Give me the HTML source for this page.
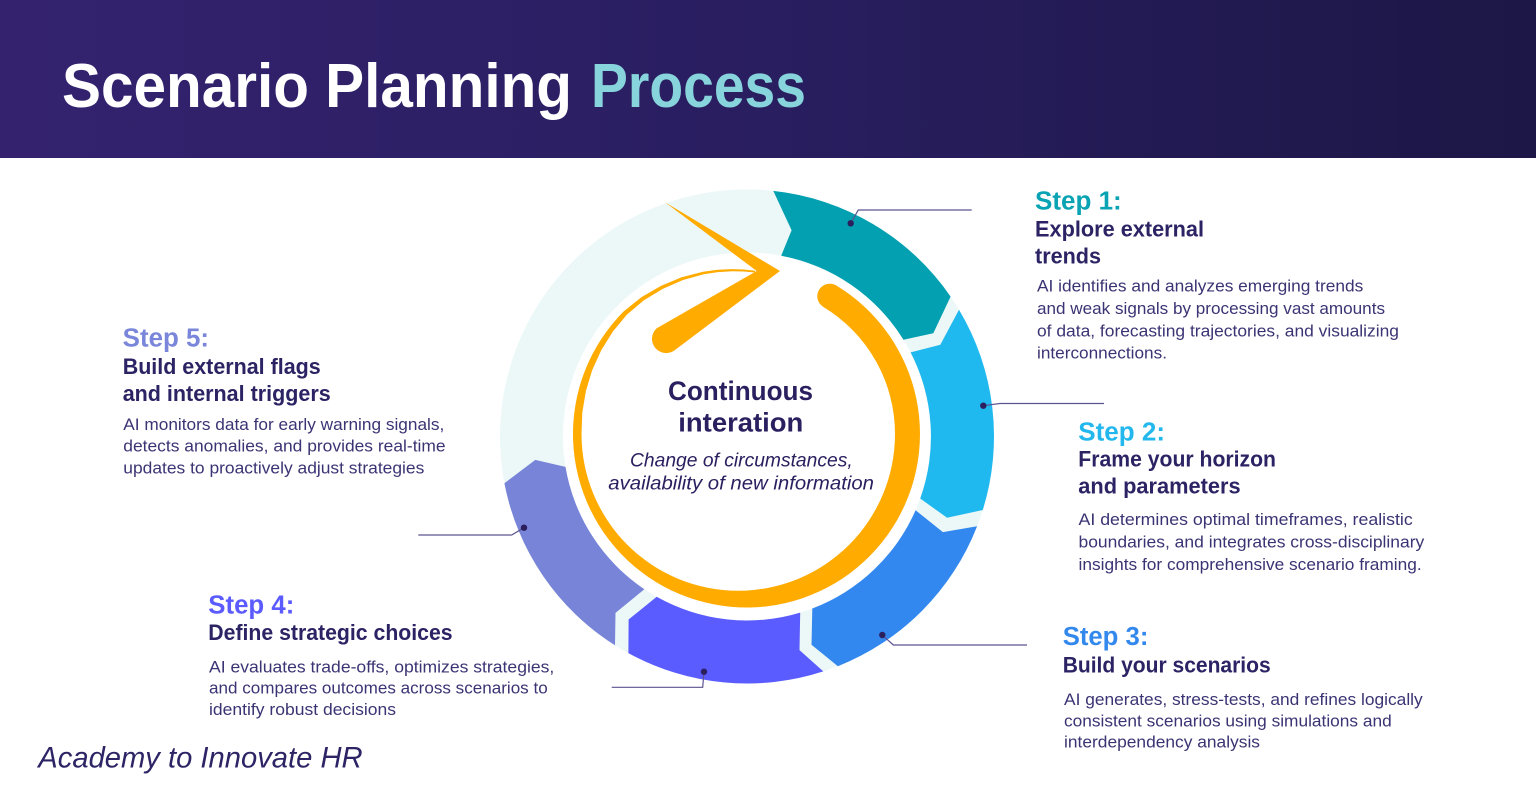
<!DOCTYPE html>
<html>
<head>
<meta charset="utf-8">
<style>
  html,body{margin:0;padding:0;background:#ffffff;}
  body{width:1536px;height:803px;overflow:hidden;}
  svg{display:block;}
  text{font-family:"Liberation Sans", Arial, sans-serif;}
  .lbl{font-size:25.5px;font-weight:bold;}
  .hd{font-size:22.5px;font-weight:bold;fill:#2c2364;}
  .bd{font-size:17px;fill:#3b3474;}
  .cn{fill:none;stroke:#5c5490;stroke-width:1.2;}
  .dot{fill:#2b1f5e;}
</style>
</head>
<body>
<svg width="1536" height="803" viewBox="0 0 1536 803" xmlns="http://www.w3.org/2000/svg">
  <defs>
    <linearGradient id="hg" x1="0" y1="0" x2="1" y2="0">
      <stop offset="0" stop-color="#34226f"/>
      <stop offset="0.5" stop-color="#291e60"/>
      <stop offset="1" stop-color="#1c1746"/>
    </linearGradient>
  </defs>

  <!-- Header -->
  <rect x="0" y="0" width="1536" height="158" fill="url(#hg)"/>
  <text x="62" y="107" font-size="62" font-weight="bold" fill="#ffffff" textLength="510" lengthAdjust="spacingAndGlyphs">Scenario Planning</text>
  <text x="591" y="107" font-size="62" font-weight="bold" fill="#88d4dc" textLength="215" lengthAdjust="spacingAndGlyphs">Process</text>

  <!-- Pale ring background -->
  <circle cx="747" cy="436.5" r="215.5" fill="none" stroke="#ecf8f8" stroke-width="63"/>

  <!-- Segments -->
  <path d="M 773.3 190.9 A 247 247 0 0 1 950.6 296.6 L 933.3 333.2 L 903.5 339.8 A 184 184 0 0 0 781.2 255.7 L 791.6 230.3 Z" fill="#02a0b0"/>
  <path d="M 959.0 309.7 A 247 247 0 0 1 982.8 510.0 L 947.1 517.8 L 920.2 498.5 A 184 184 0 0 0 910.6 352.4 L 940.3 344.7 Z" fill="#20b9ef"/>
  <path d="M 977.1 526.2 A 247 247 0 0 1 837.9 666.2 L 811.5 644.8 L 812.3 608.5 A 184 184 0 0 0 915.6 510.2 L 942.9 532.1 Z" fill="#3388ef"/>
  <path d="M 823.3 671.4 A 247 247 0 0 1 628.4 653.1 L 628.6 619.5 L 656.7 596.8 A 184 184 0 0 0 800.2 612.6 L 799.5 650.1 Z" fill="#5b5cff"/>
  <path d="M 615.0 645.3 A 247 247 0 0 1 504.4 483.2 L 535.3 459.9 L 565.5 466.9 A 184 184 0 0 0 644.4 589.2 L 615.5 612.9 Z" fill="#7884d8"/>

  <!-- Orange brush stroke -->
  <path d="M 835.9 285.3 A 173.5 173.5 0 1 1 623.8 311.3 L 641.5 297.1 L 661.0 285.9 L 681.6 277.3 L 703.0 271.7 L 717.5 269.7 L 732.1 269.1 L 743.6 269.5 L 755.1 270.7 L 755.0 272.5 L 743.7 271.5 L 732.3 271.3 L 718.0 272.1 L 703.7 274.2 L 682.7 280.1 L 662.75 288.9 L 643.9 300.3 L 627.0 314.5 L 612.9 331.5 L 601.3 350.1 L 592.2 370.1 L 585.9 391.0 L 582.3 412.4 L 581.5 434 A 156.75 156.75 0 0 0 895 434 A 148.5 148.5 0 0 0 823.0 306.7 A 12.5 12.5 0 0 1 835.9 285.3 Z" fill="#ffab00"/>
  <!-- Arrowhead -->
  <path d="M 665 202.3 L 780 271 L 675 350 A 14.2 14.2 0 0 1 656.7 328.3 L 756.7 271 Z" fill="#ffab00"/>

  <!-- Center text -->
  <text x="668" y="400" font-size="27" font-weight="bold" fill="#2a2060" textLength="145" lengthAdjust="spacingAndGlyphs">Continuous</text>
  <text x="678.3" y="431.7" font-size="27" font-weight="bold" fill="#2a2060" textLength="125" lengthAdjust="spacingAndGlyphs">interation</text>
  <text x="630" y="466.7" font-size="19" font-style="italic" fill="#2a2060" textLength="222.7" lengthAdjust="spacingAndGlyphs">Change of circumstances,</text>
  <text x="608.3" y="489.3" font-size="19" font-style="italic" fill="#2a2060" textLength="265.7" lengthAdjust="spacingAndGlyphs">availability of new information</text>

  <!-- Connectors -->
  <polyline class="cn" points="850.7,223.3 858.3,210 971.7,210"/>
  <circle class="dot" cx="850.7" cy="223.3" r="3.2"/>
  <polyline class="cn" points="983.3,405.7 1000,403.5 1104,403.5"/>
  <circle class="dot" cx="983.3" cy="405.7" r="3.2"/>
  <polyline class="cn" points="882.3,635 893.3,645 1027,645"/>
  <circle class="dot" cx="882.3" cy="635" r="3.2"/>
  <polyline class="cn" points="704,671.7 702.7,687.3 611.7,687.3"/>
  <circle class="dot" cx="704" cy="671.7" r="3.2"/>
  <polyline class="cn" points="524,527.7 511.7,535 418.3,535"/>
  <circle class="dot" cx="524" cy="527.7" r="3.2"/>

  <!-- Step 1 -->
  <text class="lbl" x="1035" y="209.3" fill="#0aa3b3" textLength="86.7" lengthAdjust="spacingAndGlyphs">Step 1:</text>
  <text class="hd" x="1035" y="236.7" textLength="169" lengthAdjust="spacingAndGlyphs">Explore external</text>
  <text class="hd" x="1035" y="263.3" textLength="66" lengthAdjust="spacingAndGlyphs">trends</text>
  <text class="bd" x="1037" y="291.7" textLength="326.3" lengthAdjust="spacingAndGlyphs">AI identifies and analyzes emerging trends</text>
  <text class="bd" x="1037" y="314" textLength="348" lengthAdjust="spacingAndGlyphs">and weak signals by processing vast amounts</text>
  <text class="bd" x="1037" y="336.7" textLength="362" lengthAdjust="spacingAndGlyphs">of data, forecasting trajectories, and visualizing</text>
  <text class="bd" x="1037" y="358.3" textLength="130" lengthAdjust="spacingAndGlyphs">interconnections.</text>

  <!-- Step 2 -->
  <text class="lbl" x="1078.3" y="440.7" fill="#22b8ee" textLength="86.7" lengthAdjust="spacingAndGlyphs">Step 2:</text>
  <text class="hd" x="1078.3" y="466.7" textLength="197.7" lengthAdjust="spacingAndGlyphs">Frame your horizon</text>
  <text class="hd" x="1078.3" y="493.3" textLength="162.3" lengthAdjust="spacingAndGlyphs">and parameters</text>
  <text class="bd" x="1078.5" y="525" textLength="334.2" lengthAdjust="spacingAndGlyphs">AI determines optimal timeframes, realistic</text>
  <text class="bd" x="1078.5" y="547.7" textLength="345.8" lengthAdjust="spacingAndGlyphs">boundaries, and integrates cross-disciplinary</text>
  <text class="bd" x="1078.5" y="570" textLength="343.2" lengthAdjust="spacingAndGlyphs">insights for comprehensive scenario framing.</text>

  <!-- Step 3 -->
  <text class="lbl" x="1062.7" y="645" fill="#3388ee" textLength="85.7" lengthAdjust="spacingAndGlyphs">Step 3:</text>
  <text class="hd" x="1062.7" y="672.3" textLength="208" lengthAdjust="spacingAndGlyphs">Build your scenarios</text>
  <text class="bd" x="1064" y="705" textLength="358.7" lengthAdjust="spacingAndGlyphs">AI generates, stress-tests, and refines logically</text>
  <text class="bd" x="1064" y="726.3" textLength="327.7" lengthAdjust="spacingAndGlyphs">consistent scenarios using simulations and</text>
  <text class="bd" x="1064" y="747.3" textLength="196" lengthAdjust="spacingAndGlyphs">interdependency analysis</text>

  <!-- Step 4 -->
  <text class="lbl" x="208.3" y="613.3" fill="#5b5bff" textLength="86" lengthAdjust="spacingAndGlyphs">Step 4:</text>
  <text class="hd" x="208.3" y="640" textLength="244.3" lengthAdjust="spacingAndGlyphs">Define strategic choices</text>
  <text class="bd" x="209" y="672.3" textLength="345.3" lengthAdjust="spacingAndGlyphs">AI evaluates trade-offs, optimizes strategies,</text>
  <text class="bd" x="209" y="693.7" textLength="338.7" lengthAdjust="spacingAndGlyphs">and compares outcomes across scenarios to</text>
  <text class="bd" x="209" y="715" textLength="187" lengthAdjust="spacingAndGlyphs">identify robust decisions</text>

  <!-- Step 5 -->
  <text class="lbl" x="122.7" y="346.7" fill="#7986da" textLength="86.3" lengthAdjust="spacingAndGlyphs">Step 5:</text>
  <text class="hd" x="122.7" y="374" textLength="198" lengthAdjust="spacingAndGlyphs">Build external flags</text>
  <text class="hd" x="122.7" y="401" textLength="208" lengthAdjust="spacingAndGlyphs">and internal triggers</text>
  <text class="bd" x="123.3" y="430" textLength="321" lengthAdjust="spacingAndGlyphs">AI monitors data for early warning signals,</text>
  <text class="bd" x="123.3" y="451.5" textLength="322.3" lengthAdjust="spacingAndGlyphs">detects anomalies, and provides real-time</text>
  <text class="bd" x="123.3" y="473.3" textLength="301" lengthAdjust="spacingAndGlyphs">updates to proactively adjust strategies</text>

  <!-- Footer -->
  <text x="38.3" y="767.7" font-size="30" font-style="italic" fill="#2d2466" textLength="324.3" lengthAdjust="spacingAndGlyphs">Academy to Innovate HR</text>
</svg>
</body>
</html>
